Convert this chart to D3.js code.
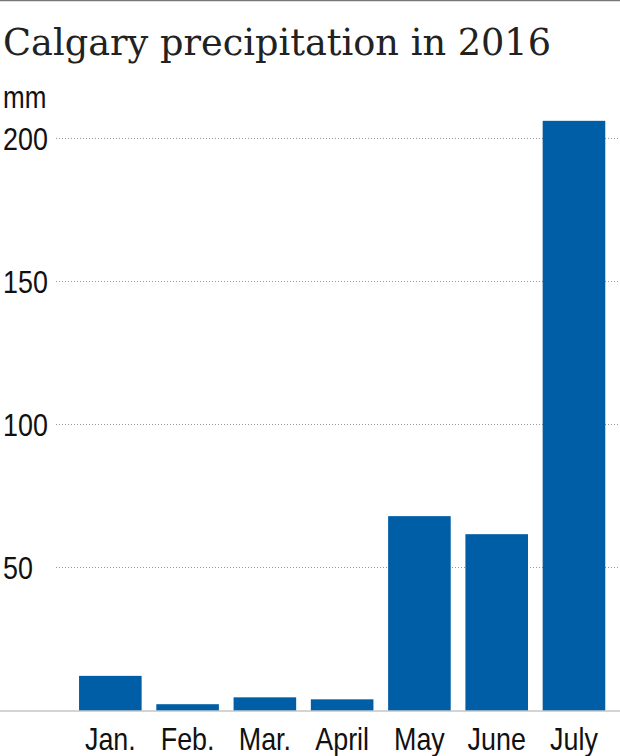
<!DOCTYPE html>
<html><head><meta charset="utf-8">
<script src="https://cdn.jsdelivr.net/npm/d3@7"></script>
<style>body{margin:0;background:#fff}svg{display:block}</style>
</head><body>
<script>
const months = ["Jan.","Feb.","Mar.","April","May","June","July"];
const precip = [12.1, 2.2, 4.6, 3.9, 67.9, 61.6, 206];
const yTicks = [50, 100, 150, 200];

const W = 620, H = 756;
const SANS = "Liberation Sans, Arial, sans-serif";
const SX = 0.84;
const svg = d3.select("body").append("svg").attr("width", W).attr("height", H);

const x = d3.scaleBand().domain(months).range([71.7, 612.6]).paddingInner(0.19).paddingOuter(0.095);
const y = d3.scaleLinear().domain([0, 200]).range([710.5, 138]);

svg.append("line").attr("x1",0).attr("x2",W).attr("y1",0.5).attr("y2",0.5).attr("stroke","#777").attr("stroke-width",1.5);

svg.append("text").attr("x",3).attr("y",55).text("Calgary precipitation in 2016")
  .attr("font-family","DejaVu Serif, serif").attr("font-size",36.7).attr("fill","#222");

svg.append("text").attr("transform","translate(3,108) scale("+SX+",1)").text("mm")
  .attr("font-family",SANS).attr("font-size",31).attr("fill","#111");

const grid = svg.append("g");
yTicks.forEach(t => {
  grid.append("line").attr("x1",56).attr("x2",W).attr("y1",Math.round(y(t))+0.5).attr("y2",Math.round(y(t))+0.5)
    .attr("stroke","#999").attr("stroke-width",1).attr("stroke-dasharray","1,2");
  grid.append("text").attr("transform","translate(3,"+(y(t)+11.5)+") scale("+SX+",1)").text(t)
    .attr("font-family",SANS).attr("font-size",32).attr("fill","#111");
});

svg.selectAll("rect.bar").data(precip).enter().append("rect").attr("class","bar")
  .attr("x",(d,i)=>x(months[i])).attr("width",x.bandwidth())
  .attr("y",d=>y(d)).attr("height",d=>y(0)-y(d)).attr("fill","#005ea6");

svg.append("line").attr("x1",0).attr("x2",W).attr("y1",y(0)+0.5).attr("y2",y(0)+0.5).attr("stroke","#aaa").attr("stroke-width",1.2);

svg.selectAll("text.xl").data(months).enter().append("text").attr("class","xl")
  .attr("transform",d=>"translate("+(x(d)+x.bandwidth()/2)+",750) scale("+SX+",1)")
  .attr("text-anchor","middle").text(d=>d)
  .attr("font-family",SANS).attr("font-size",32).attr("fill","#111");
</script>
</body></html>
